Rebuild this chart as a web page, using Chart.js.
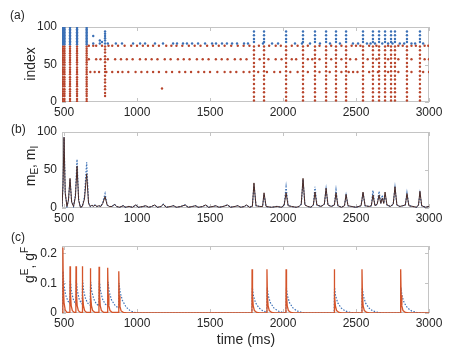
<!DOCTYPE html>
<html>
<head>
<meta charset="utf-8">
<script src="https://cdn.jsdelivr.net/npm/chart.js@4.4.1/dist/chart.umd.min.js"></script>
<style>
body { margin: 0; background: #fff; }
#wrap { position: relative; width: 474px; height: 353px; }
#wrap canvas { position: absolute; left: 0; top: 0; }
</style>
</head>
<body>
<div id="wrap">
<canvas id="ca" width="474" height="353"></canvas>
<canvas id="cb" width="474" height="353"></canvas>
<canvas id="cc" width="474" height="353"></canvas>
</div>
<script>
// ticks
const timeTicks = [500, 1000, 1500, 2000, 2500, 3000];
const indexTicks = [0, 50, 100];
const mTicks = [0, 50, 100];
const gTicks = [0, 0.1, 0.2];

// (a) raster: burst columns
const earlyBursts = [492, 503, 541, 589, 655];
const midBursts = [781];
const lateBursts = [1801, 1870, 2021, 2137, 2219, 2295, 2363, 2432, 2548, 2616, 2658, 2699, 2740, 2767, 2849, 2938];
const redDenseIdx = [1, 4, 8, 11, 14, 17, 21, 24, 27, 30, 33, 37, 40, 43, 46, 50, 53, 56, 59, 62, 65, 68, 71, 74];
const redMidIdx = [8, 12, 17, 21, 26, 30, 35, 40, 44, 48, 53, 57, 61, 66, 70, 74];
const redLateIdx = [2, 7, 13, 18, 24, 30, 35, 41, 47, 52, 58, 63, 69, 74];
const blueDenseIdx = [77, 79, 81, 83, 85, 87, 89, 91, 93, 95, 97, 99];
const blueMidIdx = [78, 82, 85, 88, 91, 94];
const blueLateIdx = [80, 84, 89, 94];
// (a) raster: sparse rows
const blueRow78 = [700, 745, 800, 855, 897, 973, 1021, 1055, 1123, 1178, 1247, 1274, 1315, 1342, 1377, 1418, 1466, 1514, 1541, 1582, 1616, 1651, 1685, 1733, 1760, 1863, 1925, 1966, 2082, 2130, 2185, 2253, 2322, 2390, 2479, 2514, 2575, 2600, 2630, 2680, 2720, 2750, 2800, 2830, 2880, 2905, 2960];
const redRow75 = [670, 700, 720, 760, 805, 830, 870, 915, 960, 1000, 1040, 1075, 1110, 1150, 1200, 1235, 1270, 1310, 1355, 1395, 1435, 1480, 1520, 1560, 1600, 1645, 1690, 1730, 1770, 1835, 1905, 1950, 1985, 2060, 2100, 2170, 2250, 2330, 2400, 2470, 2500, 2530, 2590, 2640, 2720, 2790, 2820, 2880, 2910, 2970, 2995];
const redRow57 = [670, 720, 750, 800, 850, 890, 930, 970, 1020, 1060, 1100, 1140, 1190, 1230, 1280, 1320, 1360, 1410, 1450, 1490, 1540, 1580, 1620, 1670, 1710, 1750, 1840, 1900, 1950, 1990, 2060, 2090, 2170, 2200, 2250, 2330, 2400, 2460, 2500, 2580, 2640, 2720, 2790, 2880, 2970, 3000];
const redRow40 = [680, 710, 740, 790, 830, 870, 900, 940, 990, 1030, 1070, 1110, 1150, 1200, 1240, 1290, 1330, 1370, 1420, 1460, 1500, 1550, 1600, 1640, 1680, 1730, 1770, 1830, 1890, 1940, 1980, 2050, 2100, 2170, 2250, 2320, 2400, 2450, 2480, 2510, 2590, 2650, 2720, 2790, 2880, 2960, 3000];
const blueExtra = [[700, 88], [745, 82], [760, 80]];
const redExtra = [[1171, 18]];

// (b) rates
const mTime = [486, 493, 500, 508, 520, 530, 541, 552, 565, 578,
  589, 600, 612, 625, 640, 655, 668, 680, 690, 700,
  712, 725, 740, 752, 765, 781, 795, 810,
  830, 845, 860, 880, 905, 920, 945, 970, 990, 1010,
  1040, 1060, 1080, 1100, 1120, 1140, 1165, 1180, 1200, 1230,
  1250, 1270, 1300, 1330, 1350, 1380, 1400, 1420, 1450, 1470,
  1490, 1520, 1540, 1560, 1590, 1620, 1640, 1670, 1690, 1710,
  1735, 1750, 1770, 1785,
  1790, 1801, 1815, 1840, 1860, 1870, 1884, 1920, 1960, 1990,
  2008, 2021, 2035, 2060, 2090, 2110, 2125, 2137, 2150, 2170,
  2190, 2208, 2219, 2232, 2260, 2283, 2295, 2308, 2330, 2352,
  2363, 2376, 2400, 2421, 2432, 2445, 2470, 2500, 2535, 2548,
  2562, 2590, 2605, 2616, 2630, 2645, 2658, 2670, 2680, 2690,
  2699, 2712, 2735, 2755, 2767, 2780, 2800, 2820, 2838, 2849,
  2862, 2890, 2915, 2928, 2938, 2950, 2975, 3000];
const mE = [2, 30, 93, 20, 2, 10, 39, 8, 2, 15,
  55, 10, 1, 2, 12, 45, 6, 2, 4, 2,
  4, 2, 3, 2, 6, 15, 4, 2,
  2, 5, 2, 1, 3, 1, 2, 1, 4, 1,
  2, 3, 1, 2, 4, 1, 2, 5, 1, 2,
  3, 1, 2, 4, 1, 2, 3, 1, 2, 4,
  1, 2, 3, 1, 2, 4, 1, 2, 3, 1,
  2, 4, 1, 2,
  2, 33, 3, 2, 2, 20, 2, 1, 2, 1,
  4, 20, 3, 2, 1, 2, 5, 39, 4, 2,
  1, 4, 21, 4, 2, 5, 26, 4, 2, 4,
  20, 3, 1, 3, 18, 3, 2, 1, 3, 21,
  3, 2, 3, 17, 3, 5, 17, 6, 13, 6,
  21, 4, 2, 5, 28, 4, 2, 3, 4, 19,
  3, 2, 1, 4, 22, 3, 1, 2];
const mI = [2, 30, 93, 20, 2, 10, 37, 8, 2, 18,
  64, 12, 1, 2, 15, 60, 7, 2, 4, 2,
  4, 2, 3, 2, 7, 19, 4, 2,
  2, 5, 2, 1, 3, 1, 2, 1, 4, 1,
  2, 3, 1, 2, 4, 1, 2, 5, 1, 2,
  3, 1, 2, 4, 1, 2, 3, 1, 2, 4,
  1, 2, 3, 1, 2, 4, 1, 2, 3, 1,
  2, 4, 1, 2,
  2, 31, 3, 2, 2, 18, 2, 1, 2, 1,
  4, 28, 3, 2, 1, 2, 5, 37, 4, 2,
  1, 4, 28, 4, 2, 5, 25, 4, 2, 4,
  24, 3, 1, 3, 17, 3, 2, 1, 3, 20,
  3, 2, 3, 23, 3, 5, 22, 6, 17, 6,
  18, 4, 2, 5, 27, 4, 2, 3, 4, 20,
  3, 2, 1, 4, 19, 3, 1, 2];

// (c) conductances [time, value]
const gE = [[486, 0], [492, 0.22], [495, 0.09], [500, 0.035], [508, 0.01], [520, 0.002],
  [540, 0.002], [541, 0.157], [544, 0.065], [549, 0.025], [557, 0.008], [570, 0.002],
  [581, 0.002], [582, 0.157], [585, 0.065], [590, 0.025], [598, 0.008], [612, 0.002],
  [624, 0.002], [625, 0.157], [628, 0.065], [633, 0.025], [641, 0.008], [655, 0.002],
  [679, 0.002], [680, 0.15], [683, 0.062], [688, 0.024], [696, 0.008], [712, 0.002],
  [739, 0.002], [740, 0.155], [743, 0.064], [748, 0.025], [756, 0.008], [772, 0.002],
  [798, 0.002], [799, 0.152], [802, 0.063], [807, 0.024], [815, 0.008], [830, 0.002],
  [874, 0.002], [875, 0.14], [878, 0.058], [883, 0.022], [891, 0.007], [906, 0.002], [930, 0],
  [1787, 0], [1788, 0.147], [1791, 0.06], [1796, 0.024], [1804, 0.008], [1820, 0.002], [1840, 0],
  [1889, 0], [1890, 0.147], [1893, 0.06], [1898, 0.024], [1906, 0.008], [1922, 0.002], [1942, 0],
  [2020, 0], [2021, 0.147], [2024, 0.06], [2029, 0.024], [2037, 0.008], [2053, 0.002], [2073, 0],
  [2350, 0], [2351, 0.147], [2354, 0.06], [2359, 0.024], [2367, 0.008], [2383, 0.002], [2403, 0],
  [2540, 0], [2541, 0.147], [2544, 0.06], [2549, 0.024], [2557, 0.008], [2573, 0.002], [2593, 0],
  [2805, 0], [2806, 0.147], [2809, 0.06], [2814, 0.024], [2822, 0.008], [2838, 0.002], [2860, 0], [3000, 0]];
const gI = [[486, 0], [493, 0.14], [499, 0.095], [511, 0.06], [527, 0.04], [540, 0.032],
  [543, 0.11], [550, 0.075], [562, 0.048], [574, 0.035], [581, 0.03],
  [584, 0.11], [591, 0.075], [603, 0.048], [615, 0.035], [624, 0.03],
  [627, 0.11], [634, 0.075], [648, 0.047], [664, 0.032], [679, 0.026],
  [682, 0.105], [690, 0.072], [705, 0.045], [722, 0.03], [739, 0.024],
  [742, 0.107], [750, 0.073], [765, 0.045], [782, 0.03], [798, 0.024],
  [801, 0.105], [809, 0.072], [825, 0.044], [850, 0.025], [874, 0.016],
  [877, 0.1], [885, 0.068], [900, 0.042], [925, 0.02], [950, 0.009], [975, 0.003], [1000, 0],
  [1787, 0], [1790, 0.085], [1797, 0.058], [1812, 0.034], [1835, 0.017], [1860, 0.008], [1889, 0.003],
  [1892, 0.085], [1899, 0.058], [1914, 0.034], [1937, 0.017], [1965, 0.007], [1995, 0.002], [2020, 0.001],
  [2023, 0.085], [2030, 0.058], [2045, 0.034], [2068, 0.017], [2095, 0.007], [2130, 0.002], [2160, 0],
  [2350, 0], [2353, 0.085], [2360, 0.058], [2375, 0.034], [2398, 0.017], [2425, 0.007], [2460, 0.002], [2490, 0],
  [2540, 0], [2543, 0.085], [2550, 0.058], [2565, 0.034], [2588, 0.017], [2615, 0.007], [2650, 0.002], [2680, 0],
  [2805, 0], [2808, 0.085], [2815, 0.058], [2830, 0.034], [2853, 0.017], [2880, 0.007], [2915, 0.002], [2945, 0], [3000, 0]];

const RED = '#b8452c';
const BLUE = '#3b70b6';
const TXT = '#262626';
const FONT = 'Liberation Sans';

// build raster points
function grid(times, idx) {
  const out = [];
  times.forEach(t => idx.forEach(i => out.push({ x: t, y: i })));
  return out;
}
function row(times, i) {
  return times.map(t => ({ x: t, y: i }));
}
const redDots = [].concat(
  grid(earlyBursts, redDenseIdx), grid(midBursts, redMidIdx), grid(lateBursts, redLateIdx),
  row(redRow75, 75), row(redRow57, 57), row(redRow40, 40),
  redExtra.map(p => ({ x: p[0], y: p[1] })));
const blueDots = [].concat(
  grid(earlyBursts, blueDenseIdx), grid(midBursts, blueMidIdx), grid(lateBursts, blueLateIdx),
  row(blueRow78, 78), blueExtra.map(p => ({ x: p[0], y: p[1] })));

// box with inward tick marks, like matlab (drawn under the data)
const frame = {
  id: 'frame',
  beforeDatasetsDraw(chart) {
    const { ctx, chartArea: a, scales: { x, y } } = chart;
    ctx.save();
    ctx.strokeStyle = '#c4c4c4';
    ctx.lineWidth = 1;
    ctx.strokeRect(a.left + 0.5, a.top + 0.5, a.width - 1, a.height - 1);
    ctx.beginPath();
    x.ticks.forEach(t => {
      const p = Math.round(x.getPixelForValue(t.value)) + 0.5;
      ctx.moveTo(p, a.bottom); ctx.lineTo(p, a.bottom - 4);
      ctx.moveTo(p, a.top); ctx.lineTo(p, a.top + 4);
    });
    y.ticks.forEach(t => {
      const p = Math.round(y.getPixelForValue(t.value)) + 0.5;
      ctx.moveTo(a.left, p); ctx.lineTo(a.left + 4, p);
      ctx.moveTo(a.right, p); ctx.lineTo(a.right - 4, p);
    });
    ctx.stroke();
    ctx.restore();
  }
};

function richLabel(ctx, parts, cx, cy) {
  ctx.save();
  ctx.translate(cx, cy);
  ctx.rotate(-Math.PI / 2);
  ctx.textBaseline = 'middle';
  ctx.textAlign = 'left';
  ctx.fillStyle = TXT;
  let w = 0;
  parts.forEach(p => { ctx.font = p[2] || ('14px ' + FONT); w += ctx.measureText(p[0]).width; });
  let px = -w / 2;
  parts.forEach(p => {
    ctx.font = p[2] || ('14px ' + FONT);
    ctx.fillText(p[0], px, p[1]);
    px += ctx.measureText(p[0]).width;
  });
  ctx.restore();
}
function letter(ctx, s, x, y) {
  ctx.save();
  ctx.font = '12px ' + FONT;
  ctx.fillStyle = TXT;
  ctx.textBaseline = 'middle';
  ctx.fillText(s, x, y);
  ctx.restore();
}

function makeOptions(yMin, yMax, yTicks, padTop, padBottom) {
  return {
    responsive: false,
    animation: false,
    events: [],
    layout: { padding: { top: padTop, bottom: padBottom, left: 0, right: 45 } },
    plugins: { legend: { display: false }, tooltip: { enabled: false } },
    scales: {
      x: {
        type: 'linear', min: 486, max: 3000,
        afterBuildTicks: s => { s.ticks = timeTicks.map(v => ({ value: v })); },
        afterFit: s => { s.height = 20; },
        grid: { display: false, drawTicks: false },
        border: { display: false },
        ticks: { font: { family: FONT, size: 12 }, color: TXT, padding: 3, maxRotation: 0, autoSkip: false, callback: v => String(v) }
      },
      y: {
        type: 'linear', min: yMin, max: yMax,
        afterBuildTicks: s => { s.ticks = yTicks.map(v => ({ value: v })); },
        afterFit: s => { s.width = 62; },
        grid: { display: false, drawTicks: false },
        border: { display: false },
        ticks: { font: { family: FONT, size: 12 }, color: TXT, padding: 5, callback: v => String(v) }
      }
    }
  };
}

// (a)
new Chart(document.getElementById('ca'), {
  type: 'scatter',
  data: {
    datasets: [
      { label: 'E', data: blueDots, backgroundColor: BLUE, pointRadius: 1.2, borderWidth: 0 },
      { label: 'I', data: redDots, backgroundColor: RED, pointRadius: 1.2, borderWidth: 0 }
    ]
  },
  options: makeOptions(0, 100, indexTicks, 27, 231),
  plugins: [frame, {
    id: 'txtA',
    afterDraw(c) {
      letter(c.ctx, '(a)', 10, 16);
      richLabel(c.ctx, [['index', 0]], 31, 64);
    }
  }]
});

// (b)
new Chart(document.getElementById('cb'), {
  type: 'line',
  data: {
    labels: mTime,
    datasets: [
      { label: 'mE', data: mE, borderColor: '#4a2a26', borderWidth: 1, pointRadius: 0 },
      { label: 'mI', data: mI, borderColor: BLUE, borderWidth: 1.2, borderDash: [1.5, 1.5], pointRadius: 0 }
    ]
  },
  options: makeOptions(0, 100, mTicks, 132, 125),
  plugins: [frame, {
    id: 'txtB',
    afterDraw(c) {
      letter(c.ctx, '(b)', 11, 130);
      richLabel(c.ctx, [['m', 0], ['E', 4, '10px ' + FONT], [', m', 0], ['I', 4, '10px ' + FONT]], 31, 166);
    }
  }]
});

// (c)
new Chart(document.getElementById('cc'), {
  type: 'line',
  data: {
    datasets: [
      { label: 'gE', data: gE.map(p => ({ x: p[0], y: p[1] })), borderColor: '#d4542a', borderWidth: 1.3, pointRadius: 0 },
      { label: 'gF', data: gI.map(p => ({ x: p[0], y: p[1] })), borderColor: BLUE, borderWidth: 1.2, borderDash: [1.5, 1.5], pointRadius: 0 }
    ]
  },
  options: makeOptions(0, 0.225, gTicks, 246, 20),
  plugins: [frame, {
    id: 'txtC',
    afterDraw(c) {
      letter(c.ctx, '(c)', 11, 238);
      richLabel(c.ctx, [['g', 0], ['E', -5, '10px ' + FONT], [', g', 0], ['F', -5, '10px ' + FONT]], 30, 265);
      const ctx = c.ctx;
      ctx.save();
      ctx.font = '14px ' + FONT;
      ctx.fillStyle = TXT;
      ctx.textAlign = 'center';
      ctx.textBaseline = 'middle';
      ctx.fillText('time (ms)', 246, 340);
      ctx.restore();
    }
  }]
});
</script>
</body>
</html>
